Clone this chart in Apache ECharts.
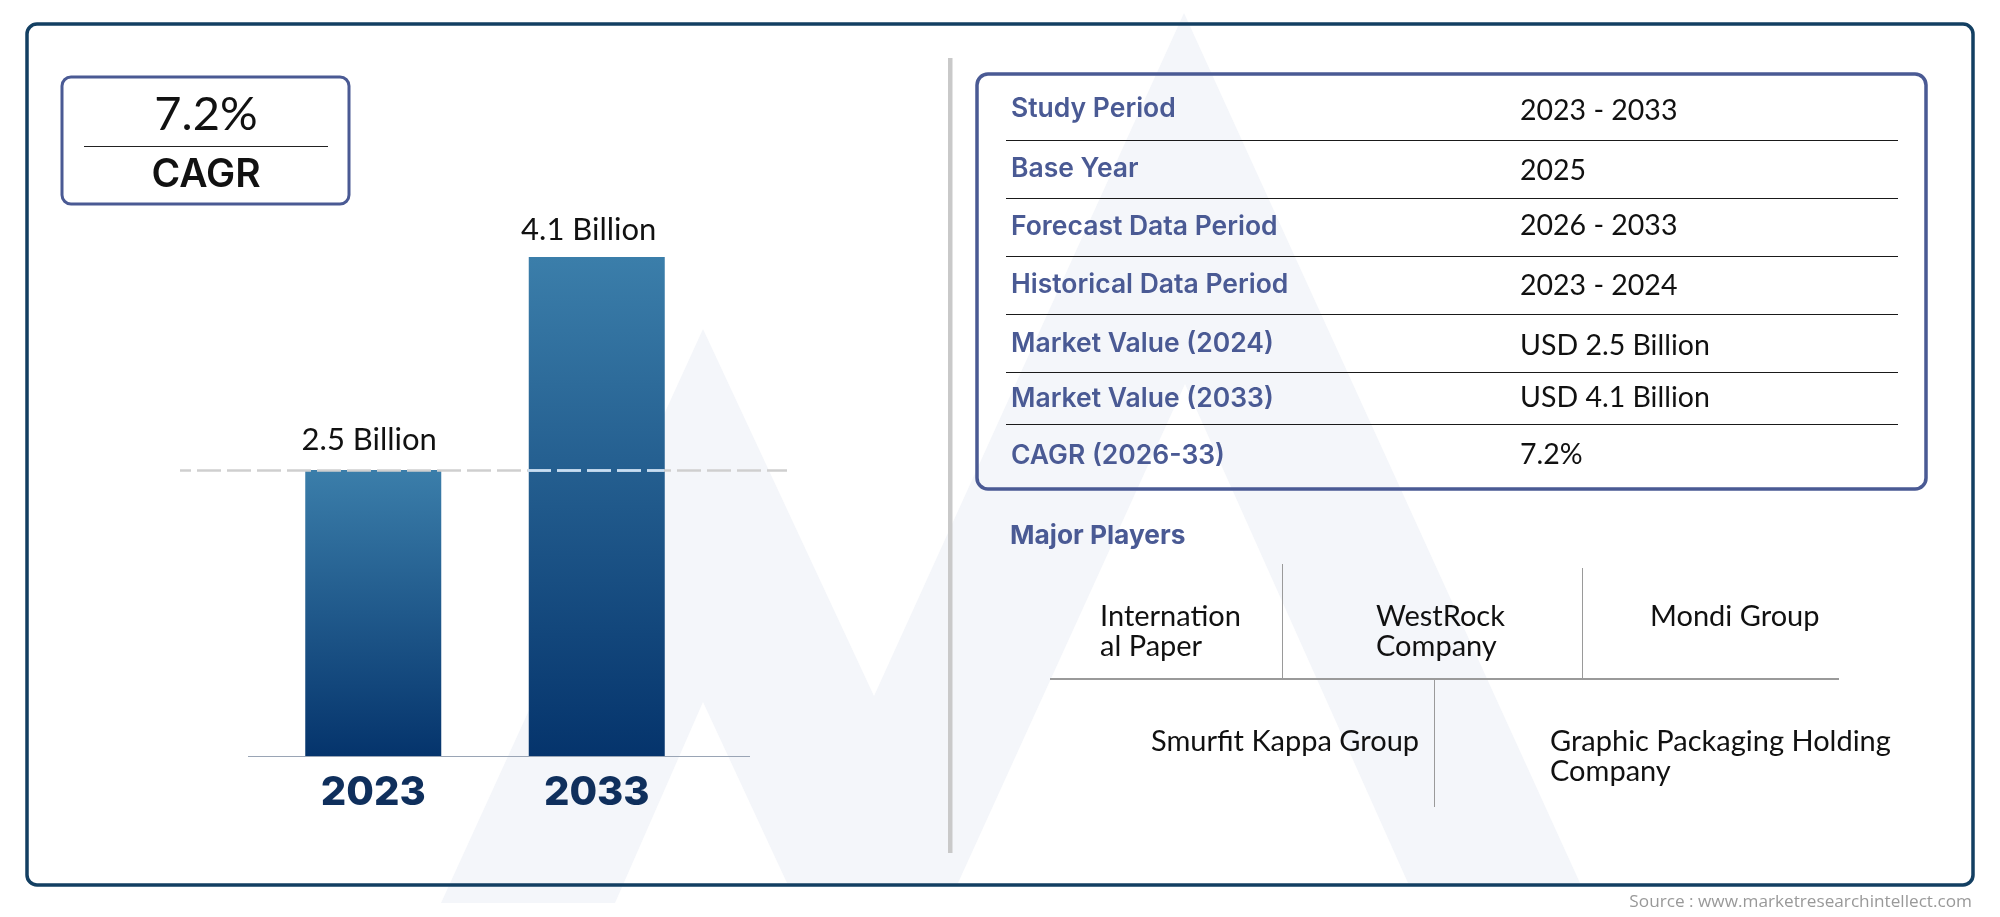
<!DOCTYPE html>
<html>
<head>
<meta charset="utf-8">
<title>CAGR chart</title>
<script src="https://cdn.jsdelivr.net/npm/echarts@6/dist/echarts.min.js"></script>
<style>
  html, body { margin: 0; padding: 0; background: #fff; }
  #chart { width: 2000px; height: 917px; }
</style>
</head>
<body>
<div id="chart"></div>
<script>
// chart data
const years = ['2023', '2033'];
const marketValues = [2.5, 4.1];
const cagrValue = '7.2%';
const cagrLabel = 'CAGR';
const tableLabels = ['Study Period', 'Base Year', 'Forecast Data Period', 'Historical Data Period',
  'Market Value (2024)', 'Market Value (2033)', 'CAGR (2026-33)'];
const tableValues = ['2023 - 2033', '2025', '2026 - 2033', '2023 - 2024',
  'USD 2.5 Billion', 'USD 4.1 Billion', '7.2%'];
const playersTitle = 'Major Players';
const players = ['Internation\nal Paper', 'WestRock\nCompany', 'Mondi Group',
  'Smurfit Kappa Group', 'Graphic Packaging Holding\nCompany'];
const sourceText = 'Source : www.marketresearchintellect.com';

// layout
const labelY = [109, 169, 227, 285, 344, 399, 456];
const valueY = [111, 170.5, 226, 285.5, 345.5, 398, 455];
const ruleY = [140, 198, 256, 314, 372, 424];
const playerX = [1100, 1376, 1650, 1151, 1550];
const playerY = [601.5, 601.5, 601.5, 726.5, 726.5];
const labelOffsets = [[-4, -9], [-8, -7]];

const NAVY = '#133f62';
const SLATE = '#4a5a94';
const SANS = 'Lato';
const HEAD = 'Inter';

const text = (str, x, y, font, fill, align, va) => ({
  type: 'text', silent: true,
  style: { text: str, x: x, y: y, font: font, fill: fill, align: align || 'left', verticalAlign: va || 'middle', lineHeight: 30 }
});
const line = (x1, y1, x2, y2, stroke, w) => ({
  type: 'line', silent: true,
  shape: { x1: x1, y1: y1, x2: x2, y2: y2 },
  style: { stroke: stroke, lineWidth: w || 1 }
});
const box = (x, y, w, h, r, stroke, lw) => ({
  type: 'rect', silent: true,
  shape: { x: x, y: y, width: w, height: h, r: r },
  style: { fill: 'transparent', stroke: stroke, lineWidth: lw }
});

const graphics = [
  // pale logo behind everything
  { type: 'polygon', silent: true, z: -1,
    shape: { points: [[441, 903], [703, 329], [874, 696], [1184, 13], [1580, 883], [1408, 883],
      [1185, 384], [958, 883], [787, 883], [703, 702], [615, 903]] },
    style: { fill: '#f4f6fa' } },
  box(27, 24, 1946, 861, 10, NAVY, 3.5),
  // CAGR badge
  box(62, 77, 287, 127, 9, SLATE, 3),
  text(cagrValue, 206, 114.5, '400 47px ' + SANS, '#111', 'center'),
  line(84, 146.5, 328, 146.5, '#222', 1),
  text(cagrLabel, 206, 175, '600 39px ' + HEAD, '#111', 'center'),
  // divider
  { type: 'rect', silent: true, shape: { x: 948, y: 58, width: 4.5, height: 795 }, style: { fill: '#c9c9c9' } },
  // info table
  box(977, 74, 949, 415, 11, SLATE, 3.5),
  text(playersTitle, 1010, 536, '700 26.3px ' + HEAD, SLATE),
  text(sourceText, 1972, 902, '400 17.2px "Open Sans"', '#999', 'right'),
  // player grid
  line(1050, 679, 1839, 679, '#9a9a9a', 2),
  line(1282.5, 564, 1282.5, 679, '#9a9a9a', 1),
  line(1582.5, 568, 1582.5, 679, '#9a9a9a', 1),
  line(1434.5, 679, 1434.5, 807, '#9a9a9a', 1)
];
tableLabels.forEach((t, i) => graphics.push(text(t, 1011, labelY[i], '600 26.5px ' + HEAD, SLATE)));
tableValues.forEach((t, i) => graphics.push(text(t, 1520, valueY[i], '400 28.5px ' + SANS, '#111')));
ruleY.forEach(y => graphics.push(line(1006, y + 0.5, 1898, y + 0.5, '#1a1a1a', 1)));
players.forEach((t, i) => graphics.push(text(t, playerX[i], playerY[i], '400 29px ' + SANS, '#111', 'left', 'top')));

const barColor = new echarts.graphic.LinearGradient(0, 0, 0, 1, [
  { offset: 0, color: '#3b7eaa' },
  { offset: 1, color: '#05346c' }
]);

const AXIS_FLOOR = 0.35; // bars in the picture do not start from zero

const option = {
  animation: false,
  backgroundColor: '#fff',
  graphic: { elements: graphics },
  grid: { left: 261.5, width: 447, top: 257, height: 499 },
  xAxis: {
    type: 'category',
    data: years,
    axisLine: { show: false },
    axisTick: { show: false },
    axisLabel: { color: '#0f2f5c', fontFamily: HEAD, fontWeight: 800, fontSize: 40, margin: 17 }
  },
  yAxis: { type: 'value', min: AXIS_FLOOR, max: 4.1, show: false },
  series: [{
    type: 'bar',
    barWidth: 136,
    itemStyle: { color: barColor },
    data: marketValues.map((v, i) => ({
      value: v,
      label: {
        show: true, position: 'top', distance: 5,
        offset: labelOffsets[i],
        formatter: v + ' Billion',
        color: '#111', fontFamily: SANS, fontSize: 31
      }
    })),
    markLine: {
      silent: true,
      symbol: 'none',
      label: { show: false },
      data: [
        [{ x: 180, yAxis: marketValues[0], lineStyle: { color: '#cfcfcf', width: 2.6, type: [24, 6], dashOffset: 13 } },
          { x: 787, yAxis: marketValues[0] }],
        // same dashes, lighter where they cross the taller bar
        [{ x: 528, yAxis: marketValues[0], lineStyle: { color: '#c5def5', width: 2.6, type: [24, 6], dashOffset: 1 } },
          { x: 664, yAxis: marketValues[0] }],
        [{ x: 248, yAxis: AXIS_FLOOR, lineStyle: { color: '#9aa5b5', width: 1, type: 'solid' } },
          { x: 750, yAxis: AXIS_FLOOR }]
      ]
    }
  }]
};

const myChart = echarts.init(document.getElementById('chart'));
myChart.setOption(option);
</script>
</body>
</html>
